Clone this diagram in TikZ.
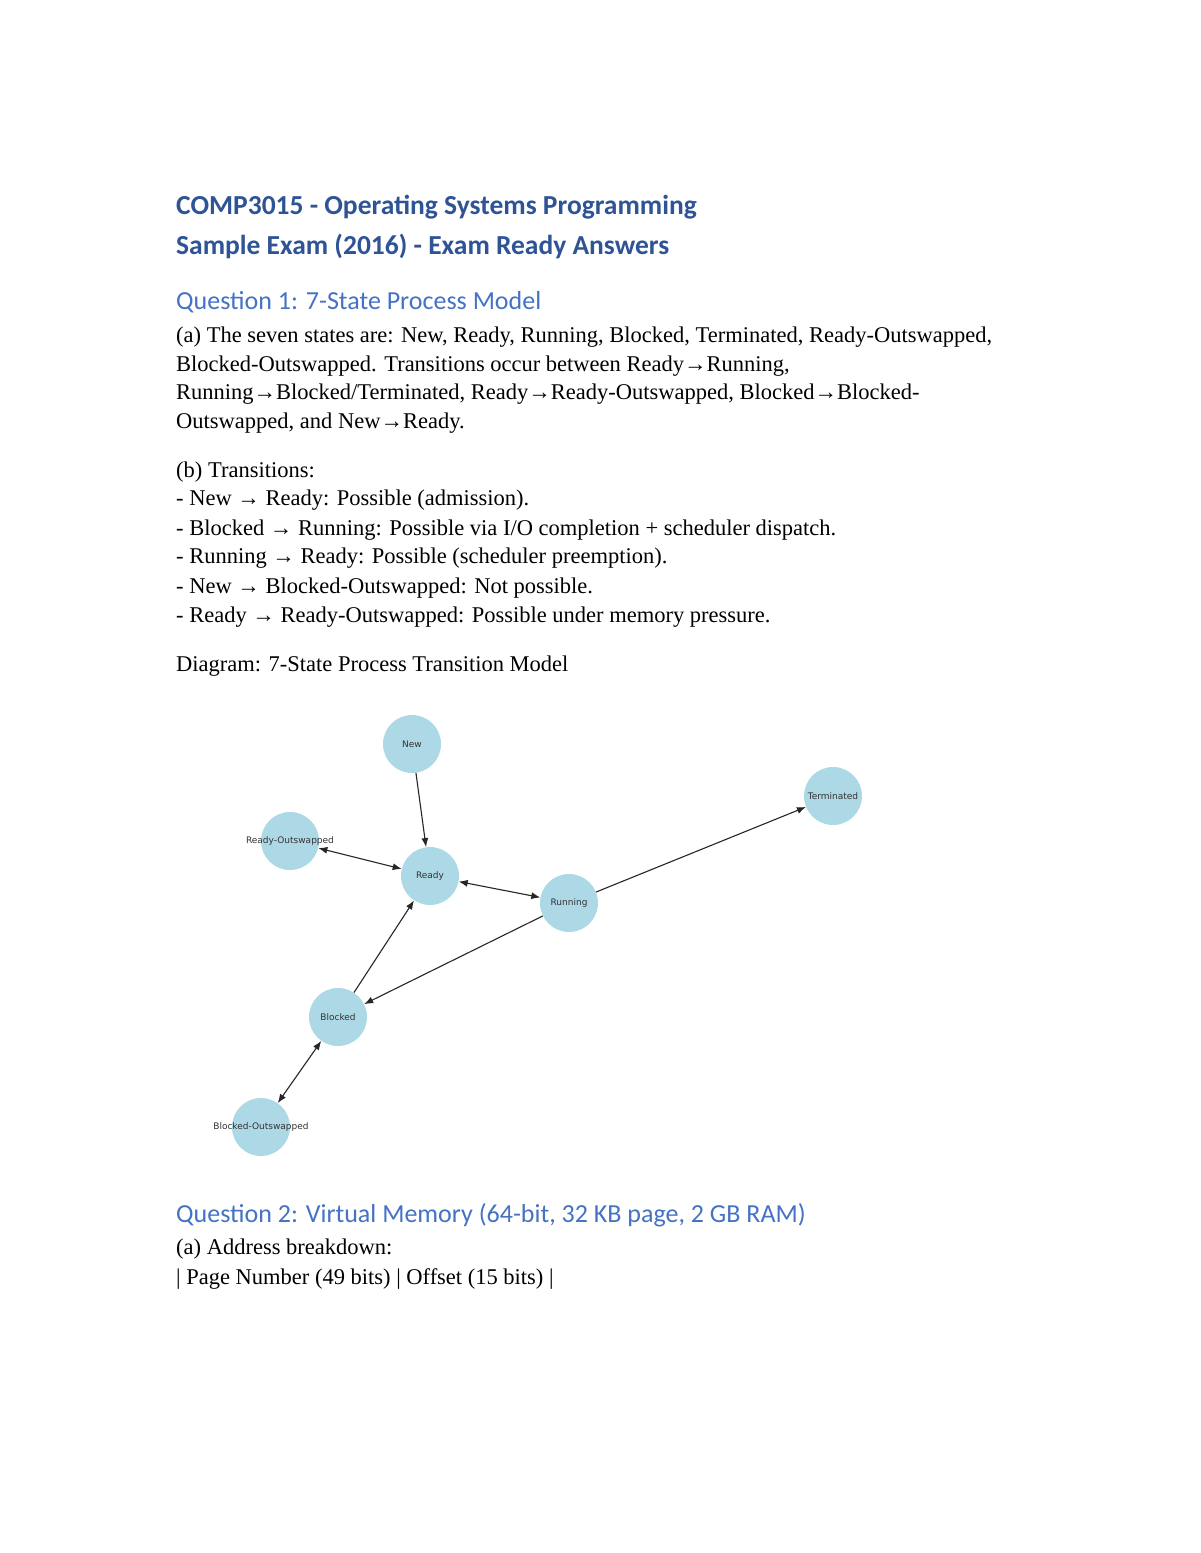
\documentclass[tikz,border=0pt]{standalone}
\usepackage{fontspec}
\setmainfont{Liberation Serif}
\newfontfamily\headfont{Carlito}
\newfontfamily\lblfont{DejaVu Sans}
\usetikzlibrary{arrows.meta}
\definecolor{titleblue}{HTML}{2F5496}
\definecolor{qblue}{HTML}{4472C4}
\definecolor{nodeblue}{HTML}{ADD8E6}
\begin{document}
\begin{tikzpicture}[x=1pt,y=-1pt,
  body/.style={anchor=base west,inner sep=0,font=\fontsize{22.5}{26}\selectfont},
  title/.style={anchor=base west,inner sep=0,font=\headfont\bfseries\fontsize{27.5}{30}\selectfont,text=titleblue},
  qhead/.style={anchor=base west,inner sep=0,font=\headfont\fontsize{26}{30}\selectfont,text=qblue},
  state/.style={circle,fill=nodeblue,minimum size=58pt,inner sep=0,label={[font=\lblfont\fontsize{9}{10}\selectfont,text=black!80]center:#1}},
  edge/.style={draw=black!85,line width=1.1pt,-{Latex[length=9pt,width=7pt]}},
  bedge/.style={draw=black!85,line width=1.1pt,{Latex[length=9pt,width=7pt]}-{Latex[length=9pt,width=7pt]}}]
\useasboundingbox[fill=white] (0,0) rectangle (1200,1553);
\node[title] (t1) at (176,214) {COMP3015 - Operating Systems Programming};
\node[title] (t2) at (176,254) {Sample Exam (2016) - Exam Ready Answers};
\node[qhead] (q1) at (176,309) {Question 1: 7-State Process Model};
\node[body] (a1) at (176,342) {(a) The seven states are: New, Ready, Running, Blocked, Terminated, Ready-Outswapped,};
\node[body] (a2) at (176,371) {Blocked-Outswapped. Transitions occur between Ready→Running,};
\node[body] (a3) at (176,399) {Running→Blocked/Terminated, Ready→Ready-Outswapped, Blocked→Blocked-};
\node[body] (a4) at (176,428) {Outswapped, and New→Ready.};
\node[body] (b0) at (176,477) {(b) Transitions:};
\node[body] (b1) at (176,505) {- New → Ready: Possible (admission).};
\node[body] (b2) at (176,535) {- Blocked → Running: Possible via I/O completion + scheduler dispatch.};
\node[body] (b3) at (176,563) {- Running → Ready: Possible (scheduler preemption).};
\node[body] (b4) at (176,593) {- New → Blocked-Outswapped: Not possible.};
\node[body] (b5) at (176,622) {- Ready → Ready-Outswapped: Possible under memory pressure.};
\node[body] (dg) at (176,671) {Diagram: 7-State Process Transition Model};
\node[state=New] (new) at (412,744) {};
\node[state=Terminated] (term) at (833,796) {};
\node[state=Ready-Outswapped] (ro) at (290,841) {};
\node[state=Ready] (ready) at (430,876) {};
\node[state=Running] (run) at (569,903) {};
\node[state=Blocked] (blk) at (338,1017) {};
\node[state=Blocked-Outswapped] (bo) at (261,1127) {};
\draw[edge] (new) -- (ready);
\draw[bedge] (ro) -- (ready);
\draw[bedge] (ready) -- (run);
\draw[edge] (run) -- (term);
\draw[edge] (run) -- (blk);
\draw[edge] (blk) -- (ready);
\draw[bedge] (blk) -- (bo);
\node[qhead] (q2) at (176,1222) {Question 2: Virtual Memory (64-bit, 32 KB page, 2 GB RAM)};
\node[body] (c1) at (176,1254) {(a) Address breakdown:};
\node[body] (c2) at (176,1284) {| Page Number (49 bits) | Offset (15 bits) |};
\end{tikzpicture}
\end{document}
